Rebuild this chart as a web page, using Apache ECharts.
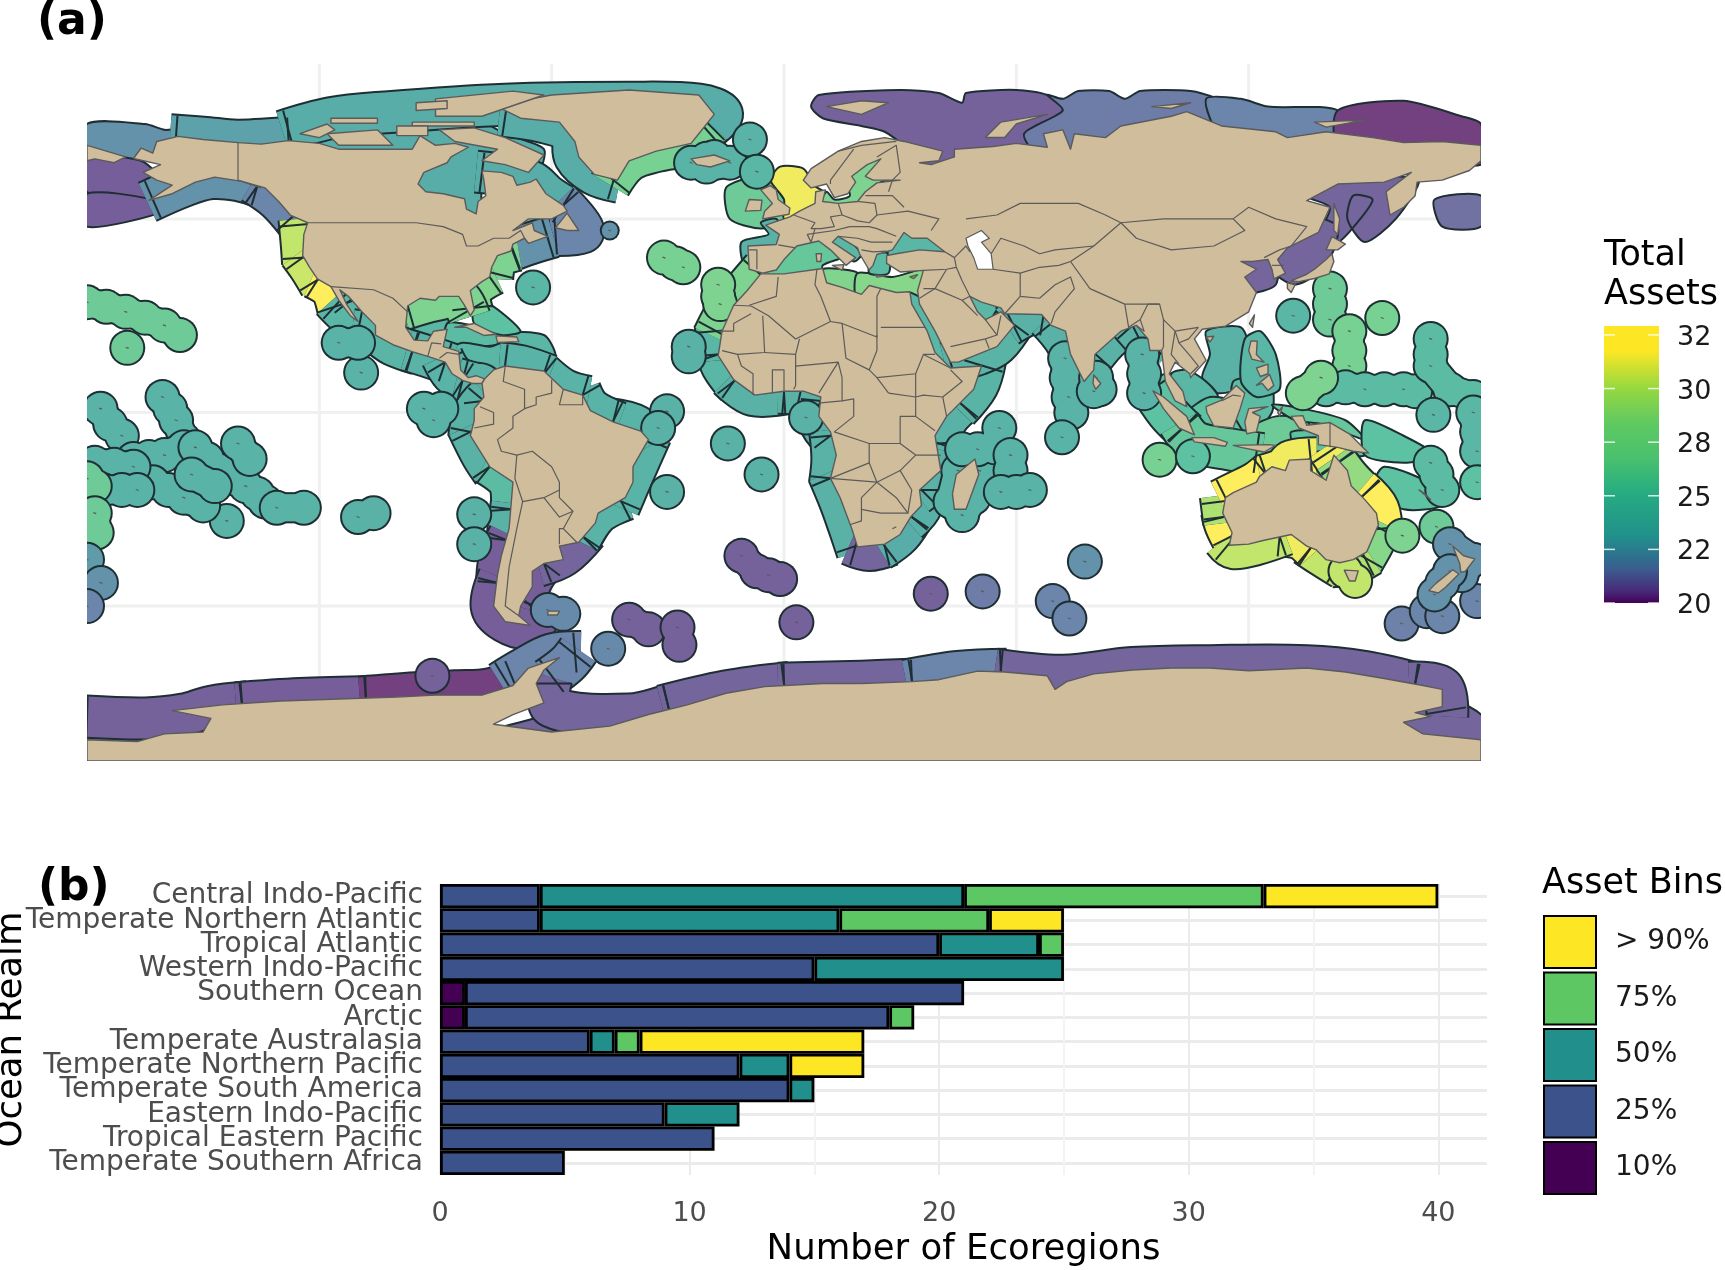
<!DOCTYPE html>
<html>
<head>
<meta charset="utf-8">
<style>
html,body{margin:0;padding:0;background:#fff}
#chart{width:1725px;height:1270px}
</style>
</head>
<body>
<div id="chart"></div>
<script src="https://cdn.jsdelivr.net/npm/echarts@6/dist/echarts.min.js"></script>
<script>
// panel (b)
var realms = ['Central Indo-Pacific','Temperate Northern Atlantic','Tropical Atlantic','Western Indo-Pacific','Southern Ocean','Arctic','Temperate Australasia','Temperate Northern Pacific','Temperate South America','Eastern Indo-Pacific','Tropical Eastern Pacific','Temperate Southern Africa'];
var bin10 = [0,0,0,0,1,1,0,0,0,0,0,0];
var bin25 = [4,4,20,15,20,17,6,12,14,9,11,5];
var bin50 = [17,12,4,10,0,0,1,2,1,3,0,0];
var bin75 = [12,6,1,0,0,1,1,0,0,0,0,0];
var bin90 = [7,3,0,0,0,0,9,3,0,0,0,0];
var binNames = ['10%','25%','50%','75%','> 90%'];
var binColors = ['#440154','#3b528b','#21908c','#5dc863','#fde725'];
var barTicks = [0,10,20,30,40];

// colour bar of panel (a)
var assetValues = [20,20.5,21.5,22,23,25,26.5,28,29.6,31.3,32.4];
var assetColors = ['#440154','#482878','#3b5c8e','#2f6e8e','#21918c','#27ad81','#4ac16d','#5ec962','#95d840','#fde725','#fde725'];
var colorbarTicks = [20,22.4,24.8,27.2,29.6,32];
var colorbarLabels = ['20','22','25','28','30','32'];

// map graticule
var gridLons = [-120,-60,0,60,120];
var gridLats = [-50,0,50];

// ecoregions, [total assets, [[lon,lat],...]]
var seaAreas = [
 [22,[[-180,74.5],[-165,74.5],[-160,73],[-156,73],[-158,70],[-168,64.5],[-180,64]]],
 [20.5,[[-180,66],[-166,65],[-160,60],[-155,57],[-163,54.5],[-180,57]]],
 [20.5,[[-180,56.5],[-163,55],[-160,52],[-180,48]]],
 [23,[[-128,69],[-128,73],[-122,76],[-105,79],[-90,81],[-76,83],[-72,80],[-78,76],[-72,72],[-62,68],[-64,61],[-72,60],[-78,57],[-78,51],[-84,51],[-96,57],[-96,66],[-110,66]]],
 [26,[[-67,50.5],[-58,52],[-56,47.5],[-62,45],[-66,47]]],
 [26,[[-3,62],[-8,61],[-15,58],[-14,50],[-6,47.5],[0,49],[2,52],[-2,58]]],
 [31,[[-3.5,60],[-1,63.5],[5,63],[8,58.5],[11,56.5],[11,53],[5,51],[0,50],[0,55]]],
 [27,[[9.5,54],[16,53.5],[21,54],[24,59],[30,61],[22,61],[26,66],[21,66],[16,60],[17,56],[13,55],[11,57]]],
 [23.5,[[-6,36],[-10,37],[-11,44],[-4,46],[-6,49],[-2,50],[0,46],[-1,43]]],
 [25.5,[[-6,35],[1,34],[10,35],[10,38],[17,41],[13,46],[8,45],[2,44],[-2,38]]],
 [24,[[12,44],[14,46.5],[20,41],[18,39]]],
 [27.5,[[10,37],[10,33],[19,29.5],[19,36],[15,37]]],
 [28,[[19,36],[19,29.5],[36,30],[37,37],[28,35]]],
 [24.5,[[22,36],[27,36],[27,41],[23,41]]],
 [24,[[27,40.5],[28.5,47],[34,47],[39,48],[42.5,41],[35,40.5]]],
 [24,[[32,31],[36,29],[40,20],[44,12],[41,12],[36,19],[33,27]]],
 [24,[[47,31],[51,29],[58,26],[56,23],[50,23],[46,28]]],
 [20.6,[[7,79],[9,82],[30,83.3],[40,82.5],[46,80],[47,82.5],[60,83.3],[68,82],[72,78],[65,70],[60,67],[54,66],[44,65],[38,62],[32,68],[26,72.5],[20,74],[10,76]]],
 [21.3,[[68,82],[72,81],[76,83],[84,83],[88,81],[92,83],[105,83],[112,81],[118,78],[130,75],[127,70],[113,71],[100,73],[87,70],[74,66],[66,66],[62,72],[72,78]]],
 [21.5,[[109,81],[118,81],[125,79],[143,78],[143,69],[127,70],[113,71]]],
 [20,[[143,78],[160,80.5],[175,76.5],[180,74.5],[180,64],[160,67],[143,69]]],
 [20.7,[[135,56],[143,61],[156,61],[164,60],[158,50],[150,44],[145.5,50],[147,56],[152,55],[148,49],[143,44],[139,47],[141,53]]],
 [20.7,[[119,40],[127,41],[127,33],[120,31],[117,36]]],
 [20.7,[[127,36],[129,43],[138,50],[143,48],[142,42],[138,36],[132,33]]],
 [21,[[168,55],[180,56],[180,48],[170,48]]],
 [24,[[-98,26],[-90,28],[-84,25],[-88,21],[-91,18],[-96,18]]],
 [24.5,[[-87,23],[-83,23],[-74,21],[-70,23],[-72,18],[-78,17],[-85,15],[-88,16]]],
 [24,[[-88,15],[-83,18],[-76,17],[-72,18],[-70,10],[-77,8],[-84,9]]],
 [24,[[-72,20],[-62,20],[-59,15],[-60,9],[-72,10]]],
 [25,[[-80,28],[-76,28],[-68,21],[-73,20],[-80,23]]],
 [23.5,[[109,21],[118,22],[120.5,15],[119,7],[112,5],[108,9],[110,15]]],
 [24,[[95,8],[100,10],[104,2],[98,2]]],
 [25,[[93,7],[99,8],[106,-3],[107,-9],[100,-7],[94,2]]],
 [24,[[104,11],[109,8],[112,4],[105,-1],[100,2],[100,10]]],
 [25,[[104,0],[110,4],[118,2],[119,-7],[118,-12],[106,-9],[104,-4]]],
 [24.5,[[116,8],[122,9],[126,7],[126,0],[120,-6],[116,0]]],
 [24,[[119,19],[123,21],[127,15],[128,6],[122,4],[118,8]]],
 [26,[[118,-12],[124,-14],[136,-11],[135,-8],[122,-10]]],
 [26,[[119,-5],[127,-1],[135,-2],[136,-7],[128,-11],[121,-11]]],
 [25.5,[[126,2],[134,1],[145,-2],[150,-7],[139,-3],[132,-2]]],
 [25,[[131,-5],[140,-5],[150,-11],[142,-11],[137,-10],[132,-9]]],
 [29.5,[[135.5,-11],[143,-10],[143,-18],[135.5,-17]]],
 [25,[[150,-2],[160,-6],[168,-11],[160,-13],[150,-11]]],
 [25,[[155,-14],[168,-19],[170,-24],[160,-25],[152,-20]]],
 [20.7,[[-62,-74],[-62,-78],[-75,-82],[-60,-84],[-40,-83],[-30,-78],[-35,-75]]],
 [20.7,[[165,-72],[180,-78],[180,-86],[160,-86],[158,-78]]],
 [20.7,[[-180,-78],[-150,-76],[-145,-84],[-180,-86]]]
];
var coastRuns = [
 [22.6,[[-157,71.5],[-150,71],[-141,70.2],[-128,71]]],
 [22,[[-163,55],[-155,58.5],[-148,60.5],[-141,60],[-136,58.5]]],
 [21.5,[[-136,58.5],[-131,55],[-127,50.5]]],
 [23,[[-128,73],[-117,76],[-103,77.5],[-72,79.5],[-40,80],[-22,79.5],[-16,77],[-19,74]]],
 [23,[[-72,76.5],[-62,75],[-55,72],[-54,66],[-49,61.5],[-44,60]]],
 [26.5,[[-44,60],[-40,65],[-33,67.5],[-24,69.5],[-20,73]]],
 [23,[[-78,62],[-70,61],[-65,59.5],[-61,56],[-57,53.5]]],
 [21.5,[[-57,53.5],[-53,49],[-52,46.5],[-59,46]]],
 [22,[[-70,42],[-66,43.5],[-61,45]]],
 [27,[[-75,36],[-74,40],[-70,41.5]]],
 [27.5,[[-80.5,27],[-81,31.5],[-76,35]]],
 [27,[[-97,27],[-90,29],[-84,29.5],[-82,26]]],
 [30,[[-125,48.5],[-124.5,43],[-124.3,40]]],
 [30.2,[[-124.3,40],[-122.5,37.5],[-120.5,34.2]]],
 [32,[[-120.5,34.2],[-117,32],[-115.5,27.5]]],
 [24,[[-115.5,28],[-110,23],[-108,24],[-112,29]]],
 [23.8,[[-110,21],[-105,20],[-101,17.5],[-96,15.7]]],
 [23.6,[[-96,15.7],[-92,14.5],[-87.5,13]]],
 [23.6,[[-87.5,13],[-85.7,10],[-83,8.3]]],
 [23.6,[[-83,8.3],[-80,7.5],[-78,7],[-77.5,3]]],
 [23.5,[[-77.5,3],[-80,0],[-81,-5]]],
 [23.5,[[-81,-5],[-78,-11],[-76,-14]]],
 [24.5,[[-76,-14],[-71,-18],[-70.5,-25]]],
 [23.5,[[-70.5,-25],[-71.5,-33]]],
 [20.5,[[-71.5,-33],[-73.5,-38],[-74,-44]]],
 [20.5,[[-74,-44],[-75.5,-50],[-72,-54],[-66,-55.5],[-63,-52]]],
 [20.5,[[-67,-49],[-65,-43],[-62,-39]]],
 [20.7,[[-62,-39],[-57,-37],[-52,-32]]],
 [23.6,[[-52,-32],[-48,-26],[-42,-23]]],
 [23.6,[[-42,-23],[-39,-16],[-35,-7]]],
 [23.6,[[-35,-7],[-38,-3.5],[-44,-2]]],
 [23.6,[[-44,-2],[-50,1],[-52,4.5]]],
 [23.6,[[-52,4.5],[-57,6],[-62,10]]],
 [23.6,[[-62,10],[-68,12],[-72,12.5]]],
 [24,[[-13,8],[-16,12],[-17,15]]],
 [24,[[-17,15],[-17.5,21]]],
 [27,[[-17.5,21],[-14,27.5],[-9.5,32.5],[-6.5,36]]],
 [23.5,[[-13,8],[-8,4.5],[0,5]]],
 [23.5,[[0,5],[6,4.5],[9.5,3]]],
 [23.5,[[9.5,3],[9,-2],[12,-6]]],
 [23.5,[[12,-6],[12.5,-12],[12,-17]]],
 [23.5,[[12,-17],[14.5,-23],[17,-30],[18.5,-34.5]]],
 [20.7,[[18.5,-34.5],[22,-35.5],[26,-34.5]]],
 [23,[[26,-34.5],[30,-31.5],[33,-27]]],
 [23.3,[[33,-27],[35.5,-24],[35.5,-20]]],
 [23.5,[[35.5,-20],[40.5,-15],[40,-8]]],
 [23.5,[[40,-8],[42,-2],[46,2]]],
 [23.7,[[46,2],[50,7],[51.5,12]]],
 [23.7,[[43,13],[50,15],[55,17.5],[59,23]]],
 [23.5,[[59,23],[64,25.5],[67,25]]],
 [23.5,[[69,23],[73,18],[75,12],[77.5,8]]],
 [23.5,[[80.5,15],[85,20],[90,22.5]]],
 [23.5,[[90,22.5],[94,18],[97,15]]],
 [25,[[95,6],[99,0],[103,-4]]],
 [25.5,[[103,-4],[106,-7.5],[115,-9.5],[122,-10.5]]],
 [32,[[113.5,-27],[114,-29],[115.5,-32]]],
 [29.5,[[113,-23],[113.5,-27]]],
 [31.5,[[114,-22],[117,-20.5],[122,-18],[124.5,-16]]],
 [31,[[124.5,-16],[129,-14.5],[131,-12.5],[136,-12]]],
 [31,[[141,-10],[143,-13]]],
 [28.5,[[143,-13],[146,-17],[150,-21]]],
 [32,[[150,-21],[153.5,-25],[154,-30]]],
 [28,[[154,-30],[152,-34],[150,-37.5]]],
 [29.5,[[150,-37.5],[147,-39],[143,-39.5]]],
 [30,[[143,-39.5],[139,-37],[136,-35]]],
 [31,[[136,-35],[133,-32.5],[128,-32]]],
 [30,[[128,-32],[122,-34],[116,-35],[114.8,-34]]],
 [20.6,[[-180,-78.5],[-165,-79],[-155,-78],[-148,-76],[-140,-75]]],
 [20.5,[[-140,-75],[-125,-74],[-108,-73.5]]],
 [20,[[-108,-73.5],[-95,-72.5],[-85,-72],[-76,-71.5],[-70,-69]]],
 [21.5,[[-72,-69],[-67,-66],[-60,-62.5],[-54,-62]]],
 [21.5,[[-54,-62.5],[-56,-65],[-60,-68]]],
 [20.7,[[-60,-70],[-60,-76],[-40,-78],[-30,-75.5]]],
 [20.7,[[-30,-75.5],[-15,-72],[0,-70]]],
 [20.7,[[0,-70],[20,-69.5],[33,-69]]],
 [21.5,[[33,-69],[45,-67],[56,-66.5]]],
 [20.7,[[56,-66.5],[72,-68],[90,-66],[110,-65.5],[135,-65.5],[150,-67],[163,-70]]],
 [20.7,[[163,-70],[170,-71],[171,-77]]]
];
var islandRuns = [
 [26,[[-180,28.5],[-175,27.3],[-170,26],[-165,24.5],[-160,22.5],[-156,20]]],
 [26,[[-169.6,16.7]]],
 [23.6,[[-109.2,10.3]]],
 [23.6,[[-115,18],[-110,18]]],
 [23.6,[[-93,1],[-88.5,1],[-90.5,-2]]],
 [24,[[-64.8,32.3]]],
 [26.5,[[-31,40],[-28,38.5],[-26,37.5]]],
 [27,[[-17,33],[-17,30],[-16.5,28]]],
 [23.5,[[-24.6,17],[-24.6,14.5]]],
 [23.5,[[-14.5,-8]]],
 [23.5,[[-5.8,-16]]],
 [23.5,[[5.7,-1.3]]],
 [23.5,[[-30.2,0.3]]],
 [23.5,[[-32.5,-4]]],
 [23.5,[[-30.2,-20.5]]],
 [23.5,[[-80,-26.3]]],
 [23.5,[[-80,-34]]],
 [23.5,[[-110,-27],[-106,-26]]],
 [23.6,[[-176.5,1],[-174,-3],[-171,-6]]],
 [23.6,[[-160.5,4],[-158.5,1],[-157,-2],[-155,-7]]],
 [23.6,[[-168,-12],[-164,-11.5],[-160,-11],[-155,-9]]],
 [23.6,[[-152,-9],[-149,-12],[-146,-15],[-142,-17],[-139,-19],[-136,-21],[-134,-23]]],
 [23.6,[[-141,-8],[-138,-12]]],
 [23.6,[[-131,-24.6],[-124,-24.6]]],
 [23.6,[[-143.9,-28]]],
 [23.6,[[-163,-18],[-159,-20],[-155,-22],[-150,-24]]],
 [23.6,[[-153,-16],[-147,-19]]],
 [23.6,[[-178,-13],[-173,-13.5],[-168,-14]]],
 [23.6,[[-176,-20],[-171,-20],[-167,-20]]],
 [26,[[-180,-17],[-178,-19]]],
 [26,[[-178,-26],[-177.5,-31]]],
 [22.3,[[-180,-38]]],
 [22,[[-176.4,-44]]],
 [21.5,[[-180,-50]]],
 [20.6,[[-11,-37],[-7,-41],[-4,-42],[-1,-43]]],
 [20.6,[[-40,-53.5],[-35,-56]]],
 [20.6,[[-27.5,-55.5],[-27,-60]]],
 [21.7,[[-61,-51],[-57,-52]]],
 [21.7,[[-45.4,-61]]],
 [20.6,[[-90.8,-68]]],
 [20.6,[[3.2,-54.2]]],
 [23.6,[[-20,65.5],[-18,66],[-14,64.5],[-20,63.5],[-24,64.5]]],
 [23.6,[[-8.8,70.5]]],
 [24,[[-7,62.2]]],
 [20.6,[[37.9,-46.8]]],
 [21.3,[[51.3,-46.2]]],
 [21.5,[[69.4,-48.7]]],
 [21.5,[[73.7,-53.2]]],
 [22,[[77.7,-38.5]]],
 [21.4,[[159.5,-54.5]]],
 [21.5,[[166,-51.3]]],
 [21.5,[[170,-52.6]]],
 [21.5,[[179,-48.7]]],
 [23.6,[[45,-15],[43,-23],[46,-26.5],[49,-22],[50.5,-15],[47,-13]]],
 [23.6,[[55.6,-4],[54.5,-9],[50,-9.5],[46,-9.5]]],
 [23.6,[[58.5,-11],[58.5,-15]]],
 [23.6,[[56,-20.5],[60,-20.5],[63.5,-20]]],
 [23.6,[[72.6,14],[73,9],[73.5,4],[74.2,0]]],
 [23.6,[[71.8,-6.4]]],
 [23.6,[[80.6,9],[81.5,6],[80,5.5]]],
 [23.6,[[92.5,15],[93,10],[93,5]]],
 [26.5,[[97,-12.2]]],
 [25,[[105.6,-11.3]]],
 [26,[[141,32],[141,28],[141,24]]],
 [26.5,[[146,21],[146,16],[146,12]]],
 [26.5,[[154.5,24.4]]],
 [24,[[131.5,25]]],
 [24.5,[[140,6],[145,6.5],[150,6],[155,6],[160,6],[163,5.5]]],
 [27,[[138.7,9],[134,5]]],
 [24.5,[[167,19],[167,15],[167,12],[172,6],[178,4]]],
 [24,[[178,0],[179,-5],[179,-10]]],
 [24,[[167.7,-0.6]]],
 [24.5,[[167,-13],[168.5,-16],[170,-20]]],
 [25,[[179,-18]]],
 [26,[[168.5,-29.5]]],
 [27,[[159.7,-31.8]]],
 [22,[[172,-34],[178,-38],[175,-42]]],
 [22,[[172,-41],[170,-44],[168,-47]]],
 [30,[[145,-41],[147.5,-43.5]]]
];
var smallIslands = [
 [22,[[-45,47]]]
];

// land outlines, [[lon,lat],...]
var landAreas = [
 [[-168,65.6],[-166,68.3],[-163,67],[-162,70],[-156.5,71.3],[-150,70.5],[-141,69.7],[-135,69.3],[-128,70.2],[-120,69.5],[-115,68],[-108,68],[-102,68],[-96,68],[-94,71.5],[-90,69],[-85,69.5],[-81.5,68.5],[-86,66],[-87,64.5],[-93,62],[-94.5,59],[-92.5,57],[-88,56.5],[-82.5,55.2],[-82,52.5],[-79.5,51.3],[-79,54.5],[-77,56],[-77.5,60],[-78,62.4],[-73,62],[-70,61],[-69,58.7],[-65.5,59.5],[-64,60.3],[-61.5,56.5],[-57,53.5],[-56,52],[-60,50],[-66,50],[-70,47],[-65,49],[-64.5,47],[-61,45.5],[-66,43.7],[-67,45],[-70,43.5],[-70.5,41.7],[-74,40.5],[-75.5,37.5],[-76,35],[-78,33.8],[-81,31.5],[-80,26.5],[-81,25],[-82.7,28],[-84,30],[-89,30],[-90,29],[-94,29.5],[-97.2,27.5],[-97.7,22],[-95.5,18.7],[-92,18.5],[-90.5,21],[-87,21.5],[-88,17],[-84,15.8],[-83.5,11],[-81.5,9],[-79.5,9.5],[-77.3,8.7],[-78,7.5],[-80.5,7.5],[-83,8.3],[-85.7,10],[-87.5,13],[-92,14.5],[-96,15.7],[-101,17.5],[-105.5,20],[-105.5,22.5],[-109,26],[-112.5,30],[-114.7,31.7],[-113,28],[-110,23.5],[-112,25],[-115,29],[-117,32.5],[-120.5,34.5],[-122.5,37.5],[-124.3,40.5],[-124,46],[-123,49],[-127.5,51],[-130.5,54.5],[-134,58],[-140,59.7],[-147,60.8],[-152,59.5],[-158,56.5],[-164,54.8],[-158,58.7],[-162,60],[-165.5,62],[-161,64]],
 [[-73,78.5],[-68,80.5],[-60,82],[-40,83.3],[-22,82],[-18,77],[-22,72],[-24,69.5],[-33,67.5],[-40,65],[-43,60],[-49,61.5],[-53,66],[-54,70],[-58,75],[-68,76]],
 [[-80,73.5],[-72,71],[-62,66.5],[-66,62],[-72,64],[-78,65],[-74,68],[-85,70],[-89,73]],
 [[-90,76.5],[-78,76.5],[-62,82],[-70,83],[-90,81]],
 [[-118,72],[-105,73],[-101,69],[-115,69]],
 [[-125,72],[-118,74.5],[-116,73],[-120,71]],
 [[-96,75],[-80,75],[-80,74],[-96,74]],
 [[-117,76],[-105,76],[-105,74.7],[-117,74.7]],
 [[-95,80],[-87,80.5],[-87,78.5],[-95,78]],
 [[-100,74],[-92,74],[-92,71.5],[-100,71.5]],
 [[-59,47.7],[-56,51.5],[-53,47],[-56,47]],
 [[-85,22],[-80,23],[-74.3,20.2],[-77.5,19.9],[-82,22]],
 [[-74.4,19.8],[-69,19.5],[-68.5,18.3],[-74,18.1]],
 [[-77.3,8.7],[-75,11],[-72,12],[-68,11.5],[-62,10.7],[-57,6],[-52,4.5],[-50,0.5],[-44,-2.5],[-37,-4.8],[-35,-7],[-39,-14],[-39,-18],[-41,-22],[-48,-26],[-48.7,-28.5],[-53,-33.5],[-58,-34.5],[-57,-38],[-62,-39],[-65,-41],[-65,-45],[-68,-50],[-68.5,-52.5],[-65.5,-55],[-72,-54],[-75,-50],[-74,-42],[-73,-37],[-71,-30],[-70,-18],[-76,-14],[-81,-6],[-80,-2],[-80,1],[-77.5,4],[-78,7.5]],
 [[-6,35.8],[0,35.8],[10,37.2],[11,33.5],[15,32.3],[20,30.5],[22,32.8],[29,31],[32.5,31.2],[33,28],[37,21],[39,15.5],[43,11.5],[51,12],[49,6],[42,-1],[39,-6],[40.5,-15],[35,-20],[35.5,-24],[32.7,-27],[30,-31.5],[26,-34],[19,-34.7],[17.5,-30],[14.5,-22],[12,-17],[13.5,-11],[12,-5],[9,-1],[9.5,4],[5,5.5],[0,5.5],[-7.5,4.5],[-13,8.5],[-17,14.7],[-16,21],[-13,27.7],[-9.5,31.5]],
 [[-5.5,36],[-9,37],[-9.3,43],[-2,43.4],[-1.2,46],[-4.7,48.4],[1.5,50.5],[4,52],[8,54],[8.2,57],[10.7,57.5],[10,54.5],[14,54],[19,54.5],[21,57],[24,59.3],[30,60],[23,60],[21,61],[25,65.5],[21.5,64],[17.5,61],[18.5,59.5],[16.5,56.5],[13,55.5],[11,59],[7,58],[5,60],[7,63],[14,67.5],[20,70],[26,71],[31,70],[41,67.5],[40,65],[35,64.5],[38,64],[44,66],[44,68],[54,68.7],[60,69.5],[68,68.5],[67,72],[72,73],[74,68],[75,72],[83,71],[87,74],[100,76.5],[104,77.7],[113,74],[127,72.5],[130,71],[140,72.5],[152,71],[160,69.7],[170,70],[180,69],[180,65],[177,62.5],[170,60],[163.5,59.5],[163,56],[160,53],[156.5,51],[155.5,57],[162,62],[155,59.5],[143,59],[135,54.7],[141,53],[138,46.5],[130,42.5],[127.5,39.5],[129.5,36],[126.5,34.5],[126,37],[125,39.5],[121,39],[118,39],[122,37],[119,35],[122,31],[120,26],[114,22.3],[108,21.5],[106,19],[109,13.5],[105,9],[104.8,10],[101,13],[99.5,10],[103,5.5],[104,1.5],[101,3],[98.5,8],[97.5,16],[94.5,16],[94,19],[91,22.5],[87,21],[80.3,15],[80,11],[77.5,8],[74,15],[72.7,21],[69,22.5],[66.5,25.3],[57,25.5],[56,27],[51,28.5],[48,30],[50,26],[52,24],[56,26],[59.5,22.5],[55,17],[45,13],[43,13],[39,21],[35,28],[34.5,31.5],[36,36.7],[30,36.3],[26.5,38.5],[26.5,40.5],[29,41],[35,42],[41.5,41.5],[37,45],[33,45],[31,46.5],[28,42],[24,40.8],[23,38],[22,36.8],[19.5,41],[19,42.5],[14,45.5],[12.5,44],[18.5,40],[16,38],[12,42],[9,44.3],[3.3,43],[0,39.5],[-2,36.8]],
 [[-180,69],[-175,67.5],[-170,66],[-173,64.5],[-178,65.5],[-180,65]],
 [[-5.5,50],[1.3,51.2],[1.5,52.8],[-1.5,55],[-2,57.5],[-3.5,58.6],[-6,57.5],[-3,54],[-5,52]],
 [[-10,52],[-6,52.2],[-5.7,54.8],[-9,55]],
 [[-24,65.5],[-18,66.5],[-14,65],[-19,63.4],[-22.5,64]],
 [[11,79],[20,80.5],[27,80],[20,77]],
 [[52,71],[56,75],[68,77],[60,74.5],[57,71]],
 [[95,79],[105,80],[100,78.5]],
 [[137,75],[150,75.5],[140,73.7]],
 [[142,54],[143.5,50],[143,46],[142,47],[142,52]],
 [[130.9,34],[135,35.7],[137,37],[140,39.5],[141.5,41],[142,39],[140.8,35.8],[137,34.6],[133,33.8]],
 [[130,33.5],[132,33],[131,31],[130,32]],
 [[140,42],[141.5,45.4],[145,43.5],[143,42]],
 [[120.2,23],[121.5,25.2],[121,22]],
 [[109,19.5],[111,19.7],[110,18.2]],
 [[120,16],[120.6,18.5],[122.2,18.4],[122,15],[124,13],[120.8,13.8]],
 [[122,7],[125.4,9.8],[126.5,7],[125,5.7],[123.5,7.5]],
 [[122,11.5],[125,12.5],[125,10],[123,9.3]],
 [[109,1.5],[113,3.2],[116.8,7],[119,5],[117.8,1],[116,-4],[111,-3.5],[109.2,0]],
 [[95.3,5.6],[98,4],[104,-1],[106,-5.8],[102,-4],[98,1]],
 [[105.3,-6.5],[111,-6.5],[114.5,-7.7],[114,-8.7],[106,-7.6]],
 [[119.5,-5.5],[119,-2.5],[120,1],[125,1.5],[121,0],[123,-1],[122,-5]],
 [[116,-8.5],[125,-8.3],[127,-8.5],[124,-10.2],[118,-9]],
 [[131,-1],[134,-0.8],[135,-3.3],[141,-2.6],[146,-5.5],[151,-10.5],[147,-10],[143,-9],[138,-8.3],[138,-6],[133,-4],[132,-2.5]],
 [[127.5,0],[128.7,1.5],[128,-1]],
 [[80,9.7],[81.8,7.5],[80.5,6],[79.8,7.5]],
 [[49.3,-12],[50.3,-16],[47,-25],[44,-25],[43.5,-21],[44.5,-16]],
 [[114,-22],[116,-20.7],[122,-18],[122.8,-16.5],[126,-14],[129.5,-15],[130.5,-12.3],[136,-12],[136,-15],[140,-17.5],[142,-11],[145.5,-15],[146.5,-19],[150,-22.5],[153,-26],[153.5,-29],[150.5,-36],[147,-38],[143.5,-38.8],[140,-38],[137.5,-35.5],[135,-34.5],[131,-31.5],[124,-33],[120,-34],[115,-34.3],[115.7,-31],[113.3,-26]],
 [[144.7,-40.7],[148.3,-40.9],[147.5,-43.5],[146,-43.5]],
 [[172.7,-34.5],[175.5,-37],[178.4,-37.8],[176,-41],[174.8,-41.3],[174.5,-39]],
 [[172.7,-40.6],[174.3,-41.7],[171,-45],[169,-46.6],[166.5,-46],[168.5,-44]],
 [[164,-20],[167,-22.5],[165.5,-21]],
 [[12.5,38],[15.5,38.2],[15,36.7]],
 [[8.3,41],[9.7,41],[9.5,39],[8.5,39]],
 [[23.5,35.5],[26.3,35.3],[24,35]],
 [[32.5,35],[34.5,35.6],[33.5,34.6]],
 [[-61,-51.3],[-58,-51.3],[-58.5,-52.3],[-61,-52.3]],
 [[-180,-84.5],[-167,-85],[-160,-83],[-150,-82.5],[-148,-79],[-158,-77],[-145,-75.5],[-130,-74.5],[-115,-74],[-100,-73.5],[-90,-73],[-78,-73],[-70,-70.5],[-66,-66],[-58,-63.3],[-62,-66.5],[-64,-70],[-62,-75],[-70,-78],[-75,-80.5],[-60,-82.5],[-45,-81],[-35,-78],[-25,-75.5],[-15,-72.5],[-5,-70.8],[10,-70],[20,-70],[33,-69.5],[40,-69],[50,-66.8],[57,-67],[68,-68],[70,-71.5],[73,-69.5],[80,-67.5],[90,-66.5],[100,-66],[110,-66],[120,-66.7],[135,-66],[145,-67],[155,-68.7],[165,-70.5],[170,-71.5],[170,-76],[163,-77.5],[167,-78.5],[160,-80],[165,-83],[180,-84.5],[180,-90],[-180,-90]]
];
var caspianSea = [[47,45],[51,47],[53,45],[51,44],[53.5,41],[54,37],[50,37],[49,40],[47.5,43]];
var borderLines = [
 [[-123,49],[-95,49],[-88,48],[-83,46],[-82,43],[-79,43],[-75,45],[-71,45],[-68,47],[-67,45]],
 [[-141,69.7],[-141,60],[-135,58]],
 [[-117,32.5],[-106,31.7],[-101,29.5],[-97.2,26]],
 [[-92,14.5],[-91,18],[-88.5,17.7]],
 [[-89,14],[-87,15.5],[-84,15]],
 [[-72,12],[-72.5,8],[-67,6],[-67,1],[-70,-1],[-70,-4],[-74,-7],[-73,-10],[-69,-11],[-69.5,-17],[-67.5,-23],[-69,-30],[-71,-40],[-72,-50],[-68.5,-52.5]],
 [[-60,8.5],[-60,5],[-64,4],[-64,2],[-67,1]],
 [[-57,6],[-58,2],[-52,2],[-52,4.5]],
 [[-78.5,1.5],[-75,0],[-75,-3],[-80,-4]],
 [[-69,-11],[-65,-10],[-60,-14],[-58,-18],[-58,-22],[-54.5,-25.5],[-57,-30],[-53.5,-33.5]],
 [[-67.5,-23],[-62,-22],[-58,-20]],
 [[-62,-22],[-58,-27],[-54.5,-25.5]],
 [[-58,-34],[-58,-30],[-57,-30]],
 [[-9,27.7],[-2,30],[-1.5,35]],
 [[-13,27.7],[-8.5,27.5],[-4,25],[3,19],[12,23.5],[9.5,30],[8,33],[8.5,37]],
 [[-17,21],[-13,21],[-13,23],[-8.5,25.5]],
 [[-16,16],[-12,15],[-5,15.5],[-5.5,25]],
 [[-12,15],[-11,12],[-8,10],[-8,4.5]],
 [[-5,15.5],[3,15],[4,19]],
 [[3,15],[3,7],[2.5,6]],
 [[-3,5],[-3,11],[0,11],[0,5.5]],
 [[3,12],[14,13],[9,5]],
 [[12,23.5],[15,23],[24,19.5],[24,30],[25,32]],
 [[14,13],[15,9],[15,3],[9.5,2.5]],
 [[15,23],[16,14],[22,11],[24,9],[27,5]],
 [[24,20],[24,16],[22,11]],
 [[25,22],[36.5,22]],
 [[24,9],[34,10],[36,15],[39,15]],
 [[27,5],[34,4],[36,4.5],[41,4],[42,-1]],
 [[34,10],[34,4]],
 [[36,15],[43,11.5]],
 [[41,4],[46,8],[43,11]],
 [[15,3],[18,3.5],[18,-1],[13,-5],[22,-8],[30,-8],[30,-1],[34,-1],[34,4]],
 [[34,-1],[39,-4.7]],
 [[30,-8],[34,-11],[40.5,-11]],
 [[22,-8],[22,-13],[12,-17]],
 [[22,-13],[24,-18],[30,-15],[34,-11]],
 [[12,-17],[24,-18],[20,-22],[20,-28],[17,-29]],
 [[24,-18],[29,-22],[32,-26],[25,-26],[20,-25]],
 [[30,-15],[33,-20],[32,-26]],
 [[28,-30],[29,-29.5]],
 [[-1.5,43.3],[3,42.5]],
 [[-9,42],[-7,42],[-7,37]],
 [[2.5,51],[8,49],[7,47.5],[9.5,47.5],[13,48],[12,50.5],[15,51],[14,54]],
 [[6,46],[7,44],[8,47.5]],
 [[6,46],[13,47],[17,48],[22,48],[24,47.5],[29,45.5]],
 [[15,51],[19,49.5],[22,49],[24,51],[23.5,54],[19,54.5]],
 [[24,51],[32,52],[40,50],[38,47]],
 [[27,57],[28,60]],
 [[21,56],[28,56],[31,53]],
 [[14,67.5],[20,69],[29,70]],
 [[24,66],[29,69],[30,62],[28,60]],
 [[18,68],[12,60],[12,59]],
 [[14,45.5],[19,45],[22.5,44],[28,44]],
 [[20,42],[23,41.5],[26.5,41.7]],
 [[36,36.7],[42,37],[44.5,37.5],[44,40],[41.5,41.5]],
 [[44,40],[47,43],[48,41.5]],
 [[36,32],[39,32],[46,29],[48,30]],
 [[42,37],[39,32],[35,29.5]],
 [[46,29],[50,25]],
 [[44.5,37.5],[46,34],[48,30]],
 [[52,24],[55,20],[52,19],[43,17]],
 [[55,20],[56,25]],
 [[52,19],[53,16.5]],
 [[47,50],[55,51],[61,54],[76,54],[83,51],[87,49]],
 [[87,49],[98,50],[107,50],[116,50],[120,53],[127,50],[135,48],[131,43]],
 [[87,49],[91,45],[100,42],[111,43],[119,47],[116,50]],
 [[87,49],[80,43],[74,39],[79,32],[88,28],[97,28],[98,24],[101,21],[107,22]],
 [[53.5,41],[56,45],[62,43],[66,41],[70,42],[80,43]],
 [[54,37],[61,36],[66,37.5],[71,38],[74,39]],
 [[61,36],[61,30],[57,25.5]],
 [[61,30],[66,29.5],[70,33],[74,35],[75,32],[70,26],[69,23]],
 [[88,28],[89,22],[92,24],[93,21],[91,22.5]],
 [[92,24],[94,28],[97,28]],
 [[98,24],[98,17],[97.5,16]],
 [[101,21],[100,15],[102,12.5]],
 [[102,18],[105,14.5],[107,12],[105,10]],
 [[101,21],[102,18],[104.5,19],[107,22]],
 [[124,40],[128,42],[131,43]],
 [[126,38],[129,38]],
 [[141,-2.6],[141,-9]],
 [[113,3],[116,4.5],[118,4.2]]
];

var landColor = '#d0bd9c';
var coastColor = '#5b5b5b';
var regionEdge = '#1e2e33';
var bandHalf = 20;
var blobRadius = 16;

function assetColor(v){
	var i = 0;
	while(i < assetValues.length - 2 && v > assetValues[i + 1]) i++;
	var t = (v - assetValues[i]) / (assetValues[i + 1] - assetValues[i]);
	t = Math.min(1, Math.max(0, t));
	return echarts.color.lerp(t, [assetColors[i], assetColors[i + 1]]);
}
// the map fills are drawn semi transparent on white in the original
function mapColor(v){
	return echarts.color.lerp(0.25, [assetColor(v), '#ffffff']);
}

function toPoints(path, api){
	return path.map(function(p){ return api.coord(p); });
}
function unit(a, b){
	var dx = b[0] - a[0], dy = b[1] - a[1], len = Math.sqrt(dx * dx + dy * dy) || 1;
	return [dx / len, dy / len];
}

function renderArea(params, api){
	var r = seaAreas[params.dataIndex];
	return {type: 'polygon', shape: {points: toPoints(r[1], api), smooth: 0.25}, style: {fill: mapColor(r[0]), stroke: regionEdge, lineWidth: 2, lineJoin: 'round'}};
}
// coastal strip as a fat line, land is drawn over its inner half
function renderBand(params, api){
	var r = coastRuns[params.dataIndex];
	var pts = toPoints(r[1], api), n = pts.length;
	var d0 = unit(pts[1], pts[0]), d1 = unit(pts[n - 2], pts[n - 1]);
	pts[0] = [pts[0][0] + d0[0] * 6, pts[0][1] + d0[1] * 6];
	pts[n - 1] = [pts[n - 1][0] + d1[0] * 6, pts[n - 1][1] + d1[1] * 6];
	return {type: 'group', children: [
		{type: 'polyline', shape: {points: pts, smooth: 0.35}, style: {fill: null, stroke: regionEdge, lineWidth: bandHalf * 2 + 4, lineCap: 'butt', lineJoin: 'round'}},
		{type: 'polyline', shape: {points: pts, smooth: 0.35}, style: {fill: null, stroke: mapColor(r[0]), lineWidth: bandHalf * 2, lineCap: 'butt', lineJoin: 'round'}}
	]};
}
function renderSeparator(params, api){
	var pts = toPoints(coastRuns[params.dataIndex][1], api), n = pts.length;
	var d0 = unit(pts[0], pts[1]), d1 = unit(pts[n - 2], pts[n - 1]), h = bandHalf;
	return {type: 'group', children: [
		{type: 'line', shape: {x1: pts[0][0] - d0[1] * h, y1: pts[0][1] + d0[0] * h, x2: pts[0][0] + d0[1] * h, y2: pts[0][1] - d0[0] * h}, style: {stroke: regionEdge, lineWidth: 2}},
		{type: 'line', shape: {x1: pts[n - 1][0] - d1[1] * h, y1: pts[n - 1][1] + d1[0] * h, x2: pts[n - 1][0] + d1[1] * h, y2: pts[n - 1][1] - d1[0] * h}, style: {stroke: regionEdge, lineWidth: 2}}
	]};
}
// island groups: chain of circles joined by a thinner line, gives the lumpy buffer shape
function blobItem(r, api, radius){
	var pts = toPoints(r[1], api), kids = [];
	function layer(color, grow){
		pts.forEach(function(p){
			kids.push({type: 'circle', shape: {cx: p[0], cy: p[1], r: radius + grow}, style: {fill: color}});
		});
		if(pts.length > 1){
			kids.push({type: 'polyline', shape: {points: pts}, style: {fill: null, stroke: color, lineWidth: radius * 1.7 + grow * 2, lineJoin: 'round'}});
		}
	}
	layer(regionEdge, 2);
	layer(mapColor(r[0]), 0);
	// the islands themselves, tiny grey specks in the middle of the buffer
	pts.forEach(function(p, i){
		if(i % 2) return;
		kids.push({type: 'line', shape: {x1: p[0] - 1.5, y1: p[1] - 0.5, x2: p[0] + 1.5, y2: p[1] + 0.5}, style: {stroke: coastColor, lineWidth: 1.2}});
	});
	return {type: 'group', children: kids};
}
function renderIsland(params, api){ return blobItem(islandRuns[params.dataIndex], api, blobRadius); }
function renderSmallIsland(params, api){ return blobItem(smallIslands[params.dataIndex], api, 8); }
function renderLand(params, api){
	return {type: 'polygon', shape: {points: toPoints(landAreas[params.dataIndex], api)}, style: {fill: landColor, stroke: coastColor, lineWidth: 1.4, lineJoin: 'round'}};
}
function renderBorder(params, api){
	return {type: 'polyline', shape: {points: toPoints(borderLines[params.dataIndex], api)}, style: {fill: null, stroke: coastColor, lineWidth: 1.2, lineJoin: 'round'}};
}
function renderCaspian(params, api){
	return {type: 'polygon', shape: {points: toPoints(caspianSea, api)}, style: {fill: '#ffffff', stroke: coastColor, lineWidth: 1.2}};
}
function renderGraticule(params, api){
	var lines = [];
	gridLons.forEach(function(lon){ lines.push([[lon,-90],[lon,90]]); });
	gridLats.forEach(function(lat){ lines.push([[-180,lat],[180,lat]]); });
	return {type: 'group', children: lines.map(function(l){
		return {type: 'polyline', shape: {points: toPoints(l, api)}, style: {fill: null, stroke: '#f0f0f0', lineWidth: 3}};
	})};
}
function renderColorbar(params, api){
	var a = api.coord([0, 32.4]), b = api.coord([1, 20]);
	var stops = assetValues.map(function(v, i){
		return {offset: (v - 20) / 12.4, color: assetColors[i]};
	});
	var kids = [{type: 'rect', shape: {x: a[0], y: a[1], width: b[0] - a[0], height: b[1] - a[1]},
		style: {fill: new echarts.graphic.LinearGradient(0, 1, 0, 0, stops)}}];
	colorbarTicks.forEach(function(v, i){
		var l = api.coord([0, v]), r = api.coord([1, v]);
		kids.push({type: 'line', shape: {x1: l[0], y1: l[1], x2: l[0] + 11, y2: l[1]}, style: {stroke: '#ffffff', lineWidth: 1.5, opacity: .8}});
		kids.push({type: 'line', shape: {x1: r[0] - 11, y1: r[1], x2: r[0], y2: r[1]}, style: {stroke: '#ffffff', lineWidth: 1.5, opacity: .8}});
		kids.push({type: 'text', style: {x: r[0] + 18, y: r[1] + 3, text: colorbarLabels[i], fill: '#1a1a1a', font: '27px "DejaVu Sans"', textAlign: 'left', textVerticalAlign: 'middle'}});
	});
	return {type: 'group', children: kids};
}

function mapSeries(list, fn){
	return {
		type: 'custom', xAxisIndex: 0, yAxisIndex: 0, coordinateSystem: 'cartesian2d',
		clip: true, silent: true,
		data: list.map(function(d, i){ return i; }),
		renderItem: fn, animation: false
	};
}
function binSeries(i, values){
	return {
		name: binNames[i], type: 'bar', stack: 'bins', xAxisIndex: 1, yAxisIndex: 1,
		barWidth: '100%',
		data: values.map(function(v){ return v ? v : null; }),
		itemStyle: {color: binColors[i], borderColor: '#000', borderWidth: 2.8},
		animation: false
	};
}

var myChart = echarts.init(document.getElementById('chart'), null, {renderer: 'canvas'});
var font = '"DejaVu Sans"';
var option = {
	backgroundColor: '#fff',
	animation: false,
	textStyle: {fontFamily: font},
	title: [
		{text: '(a)', left: 32, top: -4, textStyle: {fontSize: 44, fontWeight: 'bold', color: '#000', fontFamily: font}},
		{text: '(b)', left: 33, top: 862, textStyle: {fontSize: 44, fontWeight: 'bold', color: '#000', fontFamily: font}, z: 20},
		{text: 'Total\nAssets', left: 1599, top: 231, textStyle: {fontSize: 35, lineHeight: 39, fontWeight: 'normal', color: '#000', fontFamily: font}},
		{text: 'Asset Bins', left: 1537, top: 861, textStyle: {fontSize: 35, fontWeight: 'normal', color: '#000', fontFamily: font}}
	],
	grid: [
		{left: 87, top: 64, width: 1394, height: 697, outerBoundsMode: 'none'},
		{left: 440, top: 884, width: 1047, height: 291, outerBoundsMode: 'none'},
		{left: 1604, top: 326, width: 55, height: 277, outerBoundsMode: 'none'}
	],
	xAxis: [
		{type: 'value', gridIndex: 0, min: -180, max: 180, show: false},
		{type: 'value', gridIndex: 1, min: 0, max: 41.95, interval: 5,
			name: 'Number of Ecoregions', nameLocation: 'middle', nameGap: 57, nameMoveOverlap: false,
			nameTextStyle: {fontSize: 35.5, color: '#000', fontFamily: font},
			axisLine: {show: false}, axisTick: {show: false},
			axisLabel: {fontSize: 27, color: '#4d4d4d', margin: 25, fontFamily: font, showMaxLabel: false,
				formatter: function(v){ return barTicks.indexOf(v) >= 0 ? String(v) : ''; }},
			splitLine: {show: true, showMaxLine: false, lineStyle: {color: ['#ebebeb','#f3f3f3'], width: 2}}},
		{type: 'value', gridIndex: 2, min: 0, max: 1, show: false}
	],
	yAxis: [
		{type: 'value', gridIndex: 0, min: -90, max: 90, show: false},
		{type: 'category', gridIndex: 1, inverse: true, data: realms,
			name: 'Ocean Realm', nameLocation: 'middle', nameGap: 410, nameRotate: 90, nameMoveOverlap: false,
			nameTextStyle: {fontSize: 35.5, color: '#000', fontFamily: font},
			axisLine: {show: false}, axisTick: {show: false},
			axisLabel: {fontSize: 28, color: '#4d4d4d', margin: 17, fontFamily: font, interval: 0, padding: [7, 0, 0, 0]},
			splitLine: {show: true, alignWithLabel: true, interval: 0, lineStyle: {color: '#ebebeb', width: 3}}},
		{type: 'value', gridIndex: 2, min: 20, max: 32.4, show: false}
	],
	legend: {
		data: binNames.slice().reverse(), orient: 'vertical', left: 1538, top: 910,
		itemWidth: 52, itemHeight: 52, itemGap: 2.5, selectedMode: false, icon: 'rect',
		textStyle: {fontSize: 28, color: '#1a1a1a', fontFamily: font, padding: [5, 0, 0, 14]}
	},
	series: [
		mapSeries([0], renderGraticule),
		mapSeries(seaAreas, renderArea),
		mapSeries(coastRuns, renderBand),
		mapSeries(coastRuns, renderSeparator),
		mapSeries(islandRuns, renderIsland),
		mapSeries(smallIslands, renderSmallIsland),
		mapSeries(landAreas, renderLand),
		mapSeries(borderLines, renderBorder),
		mapSeries([0], renderCaspian),
		binSeries(0, bin10),
		binSeries(1, bin25),
		binSeries(2, bin50),
		binSeries(3, bin75),
		binSeries(4, bin90),
		{type: 'custom', xAxisIndex: 2, yAxisIndex: 2, coordinateSystem: 'cartesian2d', data: [0], renderItem: renderColorbar, silent: true, animation: false}
	]
};
myChart.setOption(option);
</script>
</body>
</html>
